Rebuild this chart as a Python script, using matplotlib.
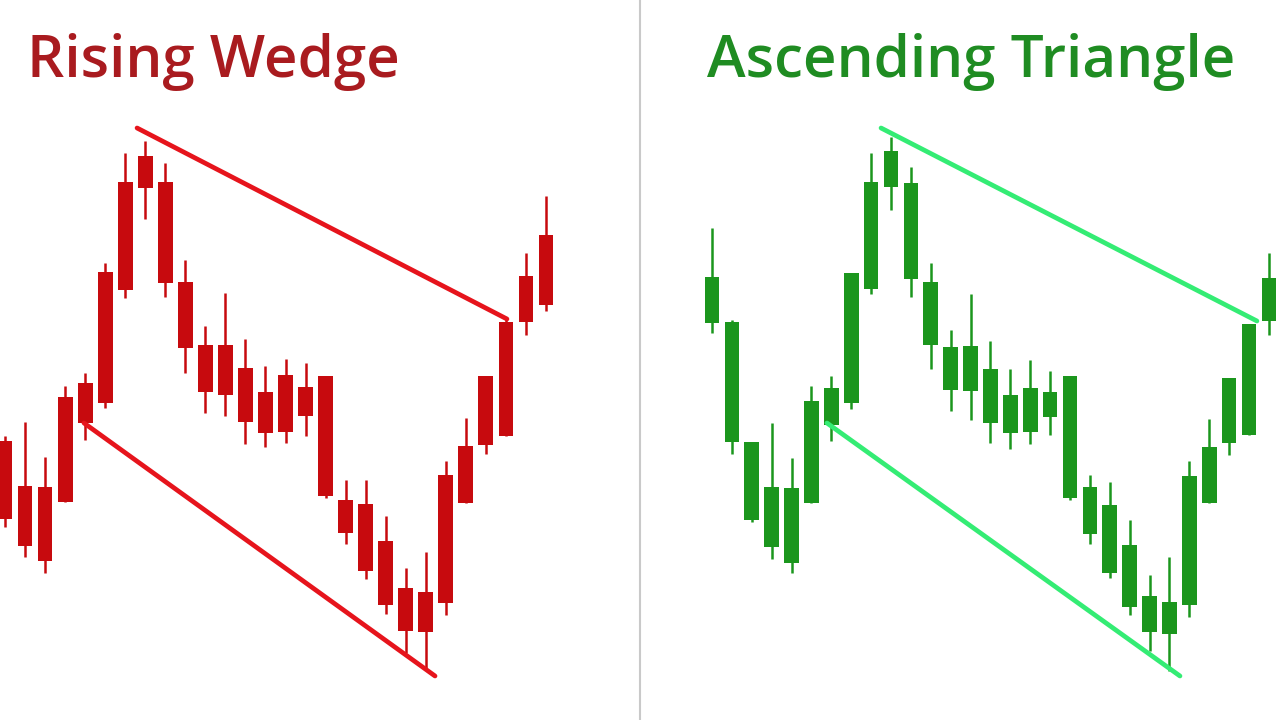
import numpy as np
import matplotlib
matplotlib.use("Agg")
import matplotlib.pyplot as plt
from matplotlib.lines import Line2D

# 左图: Rising Wedge 蜡烛 (最高, 实体上沿, 实体下沿, 最低)
wedge_high = [28.4, 29.8, 26.3, 33.4, 34.7, 45.7, 56.7, 57.9, 55.7, 46.0, 39.4, 42.7, 38.1, 35.4,
              36.1, 35.7, 34.4, 24.0, 24.0, 20.4, 15.2, 16.8, 25.9, 30.2, 34.4, 40.1, 46.7, 52.4]
wedge_top = [27.9, 23.4, 23.3, 32.3, 33.7, 44.8, 53.8, 56.4, 53.8, 43.8, 37.5, 37.5, 35.2, 32.8,
             34.5, 33.3, 34.4, 22.0, 21.6, 17.9, 13.2, 12.8, 24.5, 27.4, 34.4, 39.8, 44.4, 48.5]
wedge_bot = [20.1, 17.4, 15.9, 21.8, 29.7, 31.7, 43.0, 53.2, 43.7, 37.2, 32.8, 32.5, 29.8, 28.7,
             28.8, 30.4, 22.4, 18.7, 14.9, 11.5, 8.9, 8.8, 11.7, 21.7, 27.5, 28.4, 39.8, 41.5]
wedge_low = [19.3, 16.3, 14.7, 21.8, 28.0, 31.2, 42.2, 50.1, 42.3, 34.7, 30.7, 30.4, 27.6, 27.3,
             27.7, 28.4, 22.2, 17.6, 14.1, 10.6, 6.7, 5.1, 10.5, 21.7, 26.6, 28.4, 38.5, 40.9]
wedge_upper_x = [6.59, 25.05]
wedge_upper_y = [59.2, 40.1]
wedge_lower_x = [3.94, 21.46]
wedge_lower_y = [29.7, 4.4]

# 右图: Ascending Triangle 蜡烛
tri_high = [49.2, 40.0, 27.8, 29.7, 26.2, 33.4, 34.4, 44.7, 56.7, 58.3, 55.3, 45.7, 39.0, 42.6, 37.9,
            35.1, 36.0, 34.9, 34.4, 24.5, 23.8, 20.0, 14.5, 16.3, 25.9, 30.1, 34.2, 39.6, 46.7]
tri_top = [44.3, 39.8, 27.8, 23.3, 23.2, 31.9, 33.2, 44.7, 53.8, 56.9, 53.7, 43.8, 37.3, 37.4, 35.1,
           32.5, 33.2, 32.8, 34.4, 23.3, 21.5, 17.5, 12.4, 11.8, 24.4, 27.3, 34.2, 39.6, 44.2]
tri_bot = [39.7, 27.8, 20.0, 17.3, 15.7, 21.7, 29.5, 31.7, 43.1, 53.3, 44.1, 37.5, 33.0, 32.9, 29.7,
           28.7, 28.8, 30.3, 22.2, 18.6, 14.7, 11.3, 8.8, 8.6, 11.5, 21.7, 27.7, 28.5, 39.9]
tri_low = [38.7, 26.6, 19.8, 16.1, 14.7, 21.7, 27.9, 31.1, 42.6, 51.0, 42.3, 35.1, 30.9, 30.0, 27.7,
           27.1, 27.6, 28.5, 22.0, 17.6, 14.2, 10.5, 6.9, 4.9, 10.3, 21.7, 26.5, 28.5, 38.5]
tri_upper_x = [8.50, 27.40]
tri_upper_y = [59.2, 39.9]
tri_lower_x = [5.78, 23.53]
tri_lower_y = [29.7, 4.4]

titles = ["Rising Wedge", "Ascending Triangle"]

fig = plt.figure(figsize=(12.8, 7.2), dpi=100)
fig.patch.set_facecolor("white")


def draw_panel(ax, high, top, bot, low, up_x, up_y, lo_x, lo_y, body_c, line_c, xlim):
    x = np.arange(len(high))
    high, top, bot, low = map(np.array, (high, top, bot, low))
    ax.vlines(x, low, high, color=body_c, lw=1.8, zorder=2)
    ax.bar(x, top - bot, bottom=bot, width=0.74, color=body_c, zorder=3)
    ax.plot(up_x, up_y, color=line_c, lw=3.4, solid_capstyle="round", zorder=4)
    ax.plot(lo_x, lo_y, color=line_c, lw=3.4, solid_capstyle="round", zorder=4)
    ax.set_xlim(*xlim)
    ax.set_ylim(0, 72)
    ax.axis("off")


ax1 = fig.add_axes([0, 0, 0.5, 1])
draw_panel(ax1, wedge_high, wedge_top, wedge_bot, wedge_low,
           wedge_upper_x, wedge_upper_y, wedge_lower_x, wedge_lower_y,
           "#c70a0e", "#e6141c", (-0.25, 31.69))

ax2 = fig.add_axes([0.5, 0, 0.5, 1])
draw_panel(ax2, tri_high, tri_top, tri_bot, tri_low,
           tri_upper_x, tri_upper_y, tri_lower_x, tri_lower_y,
           "#1b961d", "#34ec74", (-3.62, 28.56))

# 中间分隔线
fig.add_artist(Line2D([0.5, 0.5], [0, 1], transform=fig.transFigure, color="#c9c9c9", lw=1.5))

fig.text(27 / 1280, 1 - 77 / 720, titles[0], color="#a91b1f", fontsize=42,
         family="Open Sans", weight="semibold", va="baseline")
fig.text(707 / 1280, 1 - 77 / 720, titles[1], color="#1f8c22", fontsize=42,
         family="Open Sans", weight="semibold", va="baseline")

fig.savefig("out.png", dpi=100)
